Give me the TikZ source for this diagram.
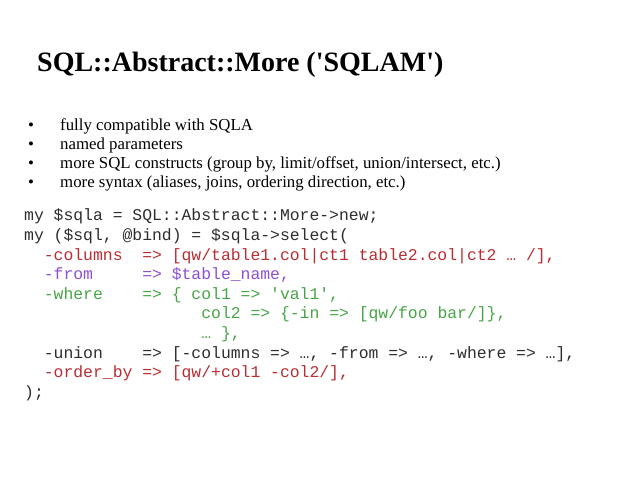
\documentclass[tikz,border=0pt]{standalone}
\usepackage{fontspec}
\setmainfont{Liberation Serif}
\setmonofont{Liberation Mono}
\definecolor{cred}{RGB}{185,45,50}
\definecolor{cpur}{RGB}{140,80,210}
\definecolor{cgrn}{RGB}{70,165,70}
\definecolor{cblk}{RGB}{45,45,45}
\tikzset{txt/.style={anchor=base west,inner sep=0pt},
 bul/.style={txt,font=\fontsize{16.8}{20}\selectfont},
 code/.style={txt,font=\ttfamily\fontsize{16.4}{19}\selectfont}}
\begin{document}
\begin{tikzpicture}[x=1pt,y=1pt]
\useasboundingbox (0,0) rectangle (638,479);
\node[txt,font=\bfseries\fontsize{28}{32}\selectfont] (title) at (37,479-72) {SQL::Abstract::More (\textquotesingle SQLAM\textquotesingle)};
\foreach \t [count=\i] in {fully compatible with SQLA,named parameters,{more SQL constructs (group by, limit/offset, union/intersect, etc.)},{more syntax (aliases, joins, ordering direction, etc.)}}{
 \node[bul] (b\i) at (28,479-131-19*\i+19) {\textbullet};
 \node[bul] (t\i) at (60,479-131-19*\i+19) {\t};
}
\def\ln#1{479-221-19.6*#1}
\node[code,text=cblk] (c0) at (24,\ln0) {my \$sqla = SQL::Abstract::More->new;};
\node[code,text=cblk] (c1) at (24,\ln1) {my (\$sql, @bind) = \$sqla->select(};
\node[code,text=cred] (c2) at (24,\ln2) {\ \ -columns\ \ => [qw/table1.col|ct1 table2.col|ct2 … /],};
\node[code,text=cpur] (c3) at (24,\ln3) {\ \ -from\ \ \ \ \ => \$table\_name,};
\node[code,text=cgrn] (c4) at (24,\ln4) {\ \ -where\ \ \ \ => \{ col1 => 'val1',};
\node[code,text=cgrn] (c5) at (24,\ln5) {\ \ \ \ \ \ \ \ \ \ \ \ \ \ \ \ \ \ col2 => \{-in => [qw/foo bar/]\},};
\node[code,text=cgrn] (c6) at (24,\ln6) {\ \ \ \ \ \ \ \ \ \ \ \ \ \ \ \ \ \ … \},};
\node[code,text=cblk] (c7) at (24,\ln7) {\ \ -union\ \ \ \ => [-columns => …, -from => …, -where => …],};
\node[code,text=cred] (c8) at (24,\ln8) {\ \ -order\_by => [qw/+col1 -col2/],};
\node[code,text=cblk] (c9) at (24,\ln9) {);};
\end{tikzpicture}
\end{document}
